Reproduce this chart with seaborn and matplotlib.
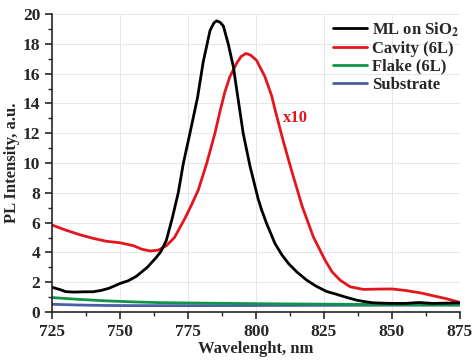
import numpy as np
import pandas as pd
import matplotlib
matplotlib.use("Agg")
import matplotlib.pyplot as plt
import seaborn as sns
from matplotlib.ticker import MultipleLocator

# ML on SiO2
ml_x = [725, 728, 730, 733, 737, 740, 743, 746, 750, 753, 756, 760, 763, 765, 767,
        769.2, 771.4, 773.3, 775.7, 778.5, 780.6, 783.1, 784.5, 785.5, 786.8, 788,
        789.8, 791.7, 793.1, 794, 795.3, 797.8, 800.8, 802, 803.9, 807, 809.5, 812,
        815, 818.6, 822, 826, 829.5, 833.4, 837, 840, 843, 846, 850, 855, 860, 865,
        870, 875]
ml_y = [1.66, 1.5, 1.37, 1.34, 1.36, 1.36, 1.45, 1.6, 1.92, 2.1, 2.4, 3.0, 3.6, 4.05,
        4.8, 6.3, 8.0, 10.0, 12.0, 14.4, 16.8, 18.9, 19.4, 19.55, 19.45, 19.2, 18.0,
        16.45, 14.7, 13.6, 12.0, 9.8, 7.6, 6.9, 5.95, 4.6, 3.85, 3.25, 2.7, 2.15, 1.75,
        1.38, 1.2, 0.98, 0.8, 0.7, 0.62, 0.6, 0.58, 0.58, 0.64, 0.58, 0.6, 0.62]

# Cavity (6L), x10
cav_x = [725, 730, 735, 740, 745, 750, 755, 758, 761, 764, 767, 770, 773.9, 776.3,
         778.8, 781.9, 784.9, 786.8, 788.6, 790.4, 792.9, 794.5, 796.3, 798, 800.2,
         803.3, 805.8, 807, 810, 813.1, 817, 821.1, 825.4, 828, 830.9, 834.6, 839.5,
         845, 850, 855, 861, 865, 870, 875]
cav_y = [5.84, 5.5, 5.2, 4.95, 4.75, 4.65, 4.45, 4.22, 4.1, 4.15, 4.45, 5.0, 6.3, 7.2,
         8.2, 10.0, 12.0, 13.5, 14.8, 15.8, 16.7, 17.15, 17.36, 17.25, 16.9, 15.8, 14.5,
         13.6, 11.5, 9.5, 7.1, 5.05, 3.49, 2.7, 2.15, 1.7, 1.52, 1.54, 1.55, 1.45, 1.27,
         1.1, 0.9, 0.65]

# Flake (6L) and substrate
fl_x = [725, 735, 745, 755, 765, 780, 800, 825, 850, 875]
fl_y = [0.97, 0.85, 0.75, 0.68, 0.63, 0.6, 0.56, 0.53, 0.5, 0.48]
sub_x = [725, 735, 745, 755, 765, 780, 800, 825, 850, 875]
sub_y = [0.52, 0.47, 0.44, 0.43, 0.43, 0.43, 0.44, 0.45, 0.46, 0.47]

sns.set_style("ticks")
plt.rcParams["font.family"] = ["Liberation Serif", "DejaVu Serif"]
plt.rcParams["font.weight"] = "bold"
plt.rcParams["axes.labelweight"] = "bold"
plt.rcParams["mathtext.fontset"] = "stix"
plt.rcParams["mathtext.default"] = "bf"

fig = plt.figure(figsize=(4.74, 3.62), dpi=100)
ax = fig.add_axes([0.110, 0.138, 0.860, 0.823])

series = [
    (ml_x, ml_y, "black", "ML on SiO$_2$"),
    (cav_x, cav_y, "#e3161d", "Cavity (6L)"),
    (fl_x, fl_y, "#109447", "Flake (6L)"),
    (sub_x, sub_y, "#4a5ea8", "Substrate"),
]
# draw substrate/flake under the others but keep legend order
for xs, ys, c, lab in series[::-1]:
    sns.lineplot(x=xs, y=ys, color=c, lw=2.0, label=lab, ax=ax, sort=False)

handles, labels = ax.get_legend_handles_labels()
ax.legend(handles[::-1], labels[::-1], frameon=False, loc="upper right",
          bbox_to_anchor=(1.035, 1.03), fontsize=12, handlelength=2.0,
          handletextpad=0.3, labelspacing=0.12)

ax.text(810, 13.0, "x10", color="#e3161d", fontsize=12, fontweight="bold",
        ha="left", va="center")

ax.set_xlim(725, 875)
ax.set_ylim(0, 20)
ax.xaxis.set_major_locator(MultipleLocator(25))
ax.xaxis.set_minor_locator(MultipleLocator(12.5))
ax.yaxis.set_major_locator(MultipleLocator(2))
ax.yaxis.set_minor_locator(MultipleLocator(1))
ax.grid(True, which="major", color="#e6e6e6", lw=0.7)
ax.tick_params(which="major", length=5, width=1.2, labelsize=12.5, direction="out")
ax.tick_params(which="minor", length=3, width=1.0, direction="out")
for lbl in ax.get_xticklabels() + ax.get_yticklabels():
    lbl.set_fontweight("bold")
sns.despine(ax=ax)
for sp in ["left", "bottom"]:
    ax.spines[sp].set_linewidth(1.2)

ax.set_xlabel("Wavelenght, nm", fontsize=12, fontweight="bold", labelpad=1)
ax.set_ylabel("PL Intensity, a.u.", fontsize=12, fontweight="bold", labelpad=2)

fig.savefig("out.png", dpi=100)
